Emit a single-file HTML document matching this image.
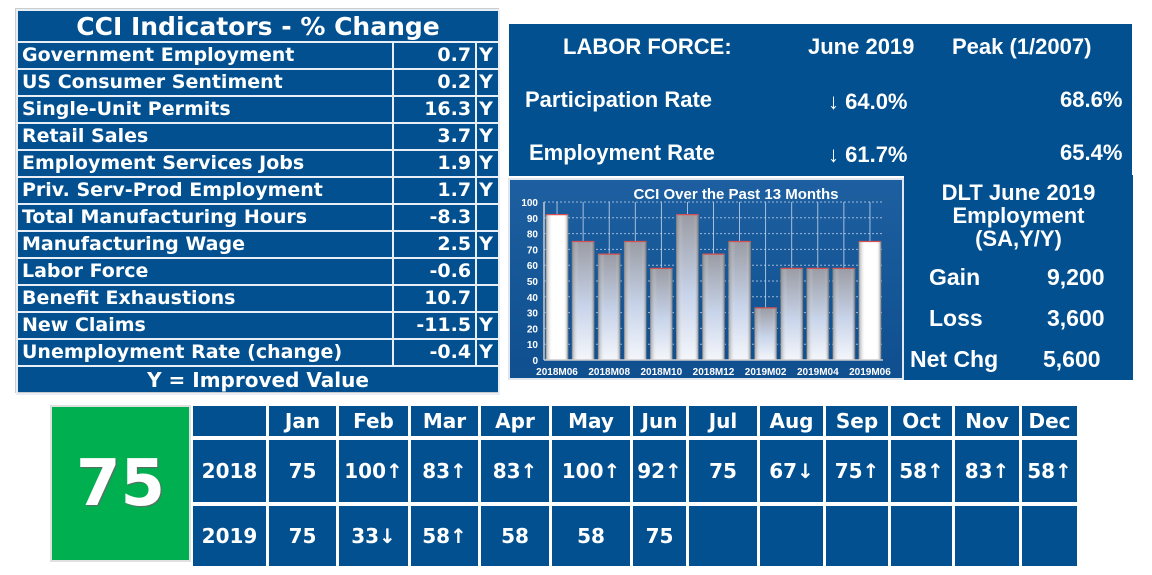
<!DOCTYPE html>
<html><head><meta charset="utf-8">
<style>
*{margin:0;padding:0;box-sizing:border-box}
body{width:1152px;height:575px;background:#fff;position:relative;overflow:hidden;font-family:"DejaVu Sans","Liberation Sans",sans-serif;font-weight:bold;color:#fff}
.abs{position:absolute}
.blue{background:#02508f}
.lt td{border:2px solid #e8eef5;height:27px;font-size:19px;padding:0 4px;line-height:23px;white-space:nowrap}
.cell{position:absolute;background:#02508f;display:flex;align-items:center;justify-content:center;font-size:20px}
.lf{position:absolute;font-family:"Liberation Sans",sans-serif;font-size:22px}
</style></head><body>
<div class="abs" style="left:15px;top:8px;width:484px;height:385px;background:#02508f;border:1px solid #ccc">
<table class="lt" style="border-collapse:collapse;width:484px">
<tr><td colspan="3" style="text-align:center;font-size:25px;height:32px">CCI Indicators - % Change</td></tr>
<tbody id="rows"></tbody>
<tr><td colspan="3" style="text-align:center;font-size:20px;height:28px">Y = Improved Value</td></tr>
</table></div>

<div class="abs blue" style="left:509px;top:24px;width:623px;height:152px"></div>
<div class="lf" style="left:563px;top:34px">LABOR FORCE:</div>
<div class="lf" style="left:808px;top:34px">June 2019</div>
<div class="lf" style="left:952px;top:34px">Peak (1/2007)</div>
<div class="lf" style="left:525px;top:87px">Participation Rate</div>
<div class="lf" style="left:828px;top:89px">↓ 64.0%</div>
<div class="lf" style="left:1060px;top:87px">68.6%</div>
<div class="lf" style="left:529px;top:140px">Employment Rate</div>
<div class="lf" style="left:828px;top:142px">↓ 61.7%</div>
<div class="lf" style="left:1060px;top:140px">65.4%</div>

<div class="abs blue" style="left:904px;top:175px;width:229px;height:205px"></div>
<div class="lf" style="left:904px;top:181px;width:229px;text-align:center;line-height:23px">DLT June 2019<br>Employment<br>(SA,Y/Y)</div>
<div class="lf" style="left:929px;top:264px;font-size:23px">Gain</div>
<div class="lf" style="left:1047px;top:264px;font-size:23px">9,200</div>
<div class="lf" style="left:929px;top:305px;font-size:23px">Loss</div>
<div class="lf" style="left:1047px;top:305px;font-size:23px">3,600</div>
<div class="lf" style="left:910px;top:346px;font-size:23px">Net Chg</div>
<div class="lf" style="left:1043px;top:346px;font-size:23px">5,600</div>

<svg class="abs" style="left:508px;top:178px" width="396" height="202" id="chart">
<defs>
<linearGradient id="bg" x1="0" y1="0" x2="0" y2="1"><stop offset="0" stop-color="#1d5fa0"/><stop offset="1" stop-color="#0f4f8f"/></linearGradient>
<linearGradient id="gb" x1="0" y1="0" x2="0" y2="1"><stop offset="0" stop-color="#9a9ca4"/><stop offset="0.55" stop-color="#c8d4ea"/><stop offset="1" stop-color="#f4f6fb"/></linearGradient>
<linearGradient id="gh" x1="0" y1="0" x2="1" y2="0"><stop offset="0" stop-color="#777" stop-opacity="0.6"/><stop offset="0.3" stop-color="#fff" stop-opacity="0"/><stop offset="0.8" stop-color="#fff" stop-opacity="0"/><stop offset="1" stop-color="#555" stop-opacity="0.6"/></linearGradient>
</defs>
<rect x="1" y="1" width="394" height="200" fill="url(#bg)" stroke="#dfe6ee" stroke-width="2"/>
<text x="228" y="21" text-anchor="middle" font-family="Liberation Sans,sans-serif" font-weight="bold" font-size="15" fill="#fff">CCI Over the Past 13 Months</text>
<g id="grid"></g><g id="bars"></g><g id="axes"></g>
</svg>

<div class="abs" style="left:50px;top:405px;width:141px;height:157px;background:#00b050;border:2px solid #e0e0e0;display:flex;align-items:center;justify-content:center;font-size:64px;text-shadow:1px 1px 1px #666">75</div>
<div id="grid2"></div>

<script>
const indLabels=["Government Employment","US Consumer Sentiment","Single-Unit Permits","Retail Sales","Employment Services Jobs","Priv. Serv-Prod Employment","Total Manufacturing Hours","Manufacturing Wage","Labor Force","Benefit Exhaustions","New Claims","Unemployment Rate (change)"];
const indValues=["0.7","0.2","16.3","3.7","1.9","1.7","-8.3","2.5","-0.6","10.7","-11.5","-0.4"];
const indFlags=["Y","Y","Y","Y","Y","Y","","Y","","","Y","Y"];
const tb=document.getElementById('rows');
indLabels.forEach((l,i)=>{
 const tr=document.createElement('tr');
 
 
 tr.innerHTML='<td style="width:377px">'+l+'</td><td style="text-align:right;width:84px">'+indValues[i]+'</td><td style="width:23px;padding:0 2px">'+indFlags[i]+'</td>';
 tb.appendChild(tr);
});

const months=["2018M06","2018M07","2018M08","2018M09","2018M10","2018M11","2018M12","2019M01","2019M02","2019M03","2019M04","2019M05","2019M06"];
const cciValues=[92,75,67,75,58,92,67,75,33,58,58,58,75];
const yTicks=[0,10,20,30,40,50,60,70,80,90,100];
const NS="http://www.w3.org/2000/svg";
const px0=36,px1=375,py0=182,py1=24;
const yS=v=>py0-(v/100)*(py0-py1);
const bw=(px1-px0)/months.length;
const xS=i=>px0+i*bw;
const g=document.getElementById('grid'),b=document.getElementById('bars'),a=document.getElementById('axes');
function el(t,at,p){const e=document.createElementNS(NS,t);for(const k in at)e.setAttribute(k,at[k]);p.appendChild(e);return e;}
yTicks.forEach(t=>{
 if(t>0){const l=el('line',{x1:px0,x2:px1,y1:yS(t),y2:yS(t),stroke:'#9fb8d8','stroke-dasharray':'2,2','stroke-width':1},g);
 }
 const tx=el('text',{x:px0-6,y:yS(t)+4,'text-anchor':'end','font-size':10,'font-family':'Liberation Sans,sans-serif','font-weight':'bold',fill:'#fff'},a);
 tx.textContent=t;
 
 
});
months.forEach((m,i)=>{
 const vl=el('line',{x1:xS(i)+bw/2,x2:xS(i)+bw/2,y1:py1,y2:py0,stroke:'#c8d8ec','stroke-width':0.8},g);
 
 const white=(i===0||i===months.length-1);
 const x=xS(i)+2,w=bw-4,y=yS(cciValues[i]);
 const r=el('rect',{x:x,y:y,width:w,height:py0-y,fill:white?'#fff':'url(#gb)',stroke:'#888','stroke-width':0.6},b);
 
 
 el('rect',{x:x,y:y,width:w,height:py0-y,fill:'url(#gh)'},b);
 el('line',{x1:x,x2:x+w,y1:y,y2:y,stroke:'#d65050','stroke-width':1.2},b);
 if(i%2===0){const tx=el('text',{x:xS(i)+bw/2,y:py0+15,'text-anchor':'middle','font-size':10,'font-family':'Liberation Sans,sans-serif','font-weight':'bold',fill:'#fff'},a);
 tx.textContent=m;
 
 }
});
el('line',{x1:px0,x2:px1,y1:py0,y2:py0,stroke:'#ccc','stroke-width':1.5},a);
el('line',{x1:px0,x2:px0,y1:py1,y2:py0,stroke:'#ccc','stroke-width':1.5},a);

const colHeads=["","Jan","Feb","Mar","Apr","May","Jun","Jul","Aug","Sep","Oct","Nov","Dec"];
const colX=[193,269,339,411,481,552,633,689,760,826,891,955,1022,1080];
const row2018=["2018","75","100↑","83↑","83↑","100↑","92↑","75","67↓","75↑","58↑","83↑","58↑"];
const row2019=["2019","75","33↓","58↑","58","58","75","","","","","",""];
const rowsY=[[406,436],[440,502],[506,566]];
const c2=document.getElementById('grid2');
[colHeads,row2018,row2019].forEach((row,r)=>{
 row.forEach((t,c)=>{
  const d=document.createElement('div');
  d.className='cell';
  
  
  d.style.left=colX[c]+'px';d.style.top=rowsY[r][0]+'px';
  d.style.width=(colX[c+1]-colX[c]-3)+'px';d.style.height=(rowsY[r][1]-rowsY[r][0])+'px';
  d.textContent=t;
  c2.appendChild(d);
 });
});
</script>
</body></html>
